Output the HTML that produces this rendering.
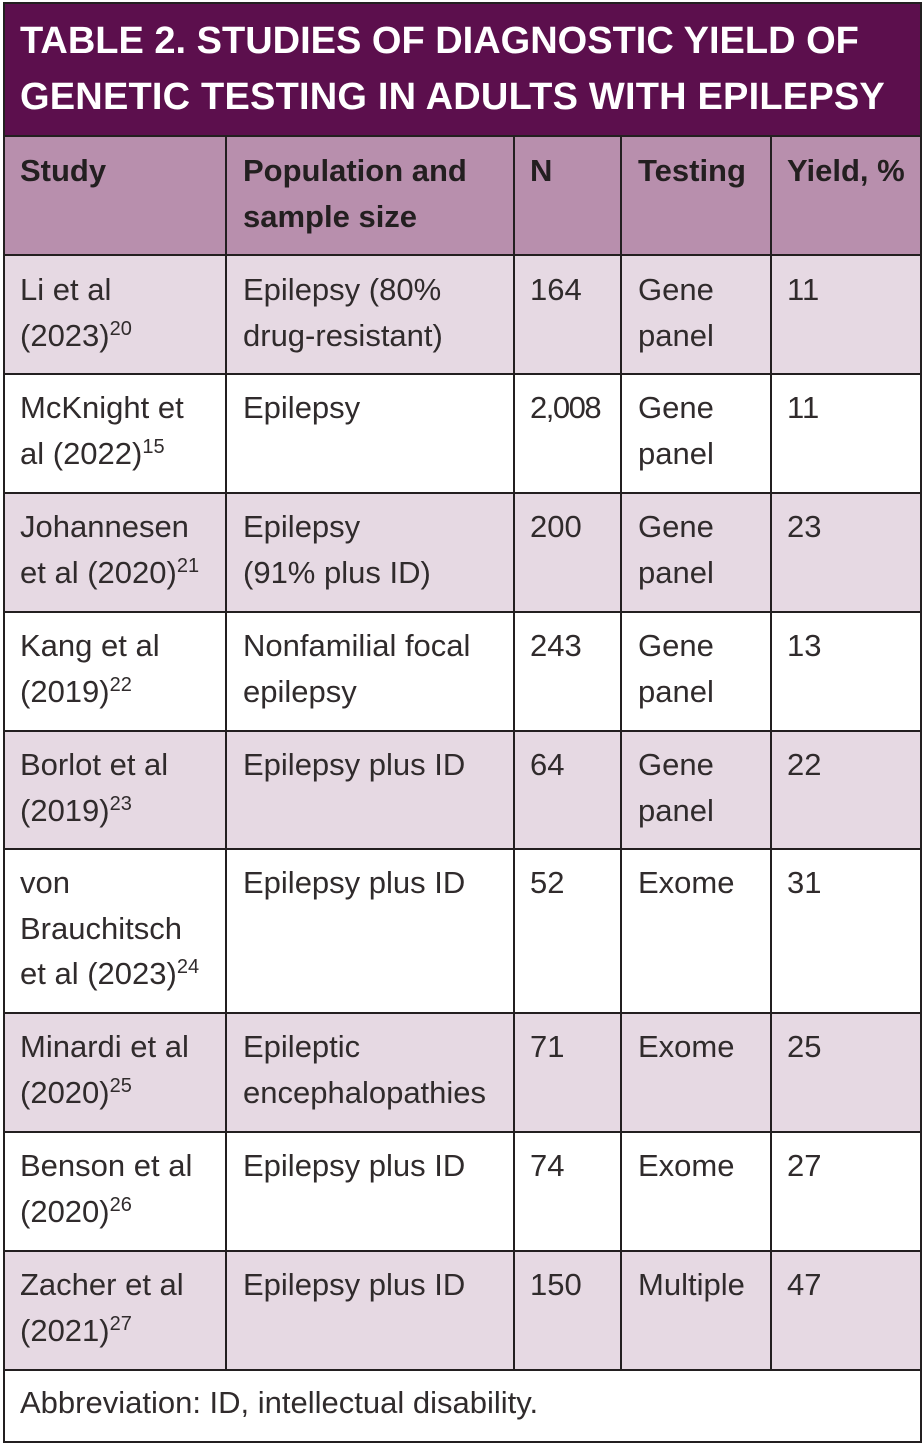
<!DOCTYPE html>
<html><head><meta charset="utf-8"><style>
*{margin:0;padding:0;box-sizing:border-box}
html,body{width:924px;height:1448px;background:#fff;overflow:hidden}
body{position:relative;font-family:"Liberation Sans",sans-serif;color:#302b2c}
.bg{position:absolute}
.h{position:absolute;background:#231f20;height:2px}
.v{position:absolute;background:#231f20;width:2px}
.t{position:absolute;font-size:31px;line-height:45.5px;white-space:nowrap}
.b{font-weight:bold;color:#231f20}
sup{font-size:20px;vertical-align:11px;line-height:0}
.title{position:absolute;left:20px;top:13px;font-size:38px;line-height:56px;font-weight:bold;color:#fff;white-space:nowrap}
</style></head><body>
<!-- backgrounds -->
<div class="bg" style="left:3px;top:2px;width:919px;height:134px;background:#5c0f4d"></div>
<div class="bg" style="left:3px;top:136px;width:919px;height:119px;background:#b88fad"></div>
<div class="bg" style="left:3px;top:255px;width:919px;height:119px;background:#e6d9e3"></div>
<div class="bg" style="left:3px;top:493px;width:919px;height:119px;background:#e6d9e3"></div>
<div class="bg" style="left:3px;top:731px;width:919px;height:118px;background:#e6d9e3"></div>
<div class="bg" style="left:3px;top:1013px;width:919px;height:119px;background:#e6d9e3"></div>
<div class="bg" style="left:3px;top:1251px;width:919px;height:119px;background:#e6d9e3"></div>

<div class="title">TABLE 2. STUDIES OF DIAGNOSTIC YIELD OF<br><span style="letter-spacing:0.2px">GENETIC TESTING IN ADULTS WITH EPILEPSY</span></div>

<!-- horizontal lines -->
<div class="h" style="left:3px;width:919px;top:2px"></div>
<div class="h" style="left:3px;width:919px;top:135px"></div>
<div class="h" style="left:3px;width:919px;top:254px"></div>
<div class="h" style="left:3px;width:919px;top:373px"></div>
<div class="h" style="left:3px;width:919px;top:492px"></div>
<div class="h" style="left:3px;width:919px;top:611px"></div>
<div class="h" style="left:3px;width:919px;top:730px"></div>
<div class="h" style="left:3px;width:919px;top:848px"></div>
<div class="h" style="left:3px;width:919px;top:1012px"></div>
<div class="h" style="left:3px;width:919px;top:1131px"></div>
<div class="h" style="left:3px;width:919px;top:1250px"></div>
<div class="h" style="left:3px;width:919px;top:1369px"></div>
<div class="h" style="left:3px;width:919px;top:1441px"></div>
<!-- vertical lines -->
<div class="v" style="left:3px;top:2px;height:1441px"></div>
<div class="v" style="left:920px;top:2px;height:1441px"></div>
<div class="v" style="left:225px;top:135px;height:1235px"></div>
<div class="v" style="left:513px;top:135px;height:1235px"></div>
<div class="v" style="left:620px;top:135px;height:1235px"></div>
<div class="v" style="left:770px;top:135px;height:1235px"></div>

<!-- header -->
<div class="t b" style="left:20px;top:148px">Study</div>
<div class="t b" style="left:243px;top:148px">Population and<br>sample size</div>
<div class="t b" style="left:530px;top:148px">N</div>
<div class="t b" style="left:638px;top:148px">Testing</div>
<div class="t b" style="left:787px;top:148px">Yield, %</div>

<!-- row 1 -->
<div class="t" style="left:20px;top:267px">Li et al<br>(2023)<sup>20</sup></div>
<div class="t" style="left:243px;top:267px">Epilepsy (80%<br>drug-resistant)</div>
<div class="t" style="left:530px;top:267px">164</div>
<div class="t" style="left:638px;top:267px">Gene<br>panel</div>
<div class="t" style="left:787px;top:267px">11</div>
<!-- row 2 -->
<div class="t" style="left:20px;top:385px">McKnight et<br>al (2022)<sup>15</sup></div>
<div class="t" style="left:243px;top:385px">Epilepsy</div>
<div class="t" style="left:530px;top:385px;letter-spacing:-1.5px">2,008</div>
<div class="t" style="left:638px;top:385px">Gene<br>panel</div>
<div class="t" style="left:787px;top:385px">11</div>
<!-- row 3 -->
<div class="t" style="left:20px;top:504px">Johannesen<br>et al (2020)<sup>21</sup></div>
<div class="t" style="left:243px;top:504px">Epilepsy<br>(91% plus ID)</div>
<div class="t" style="left:530px;top:504px">200</div>
<div class="t" style="left:638px;top:504px">Gene<br>panel</div>
<div class="t" style="left:787px;top:504px">23</div>
<!-- row 4 -->
<div class="t" style="left:20px;top:623px">Kang et al<br>(2019)<sup>22</sup></div>
<div class="t" style="left:243px;top:623px">Nonfamilial focal<br>epilepsy</div>
<div class="t" style="left:530px;top:623px">243</div>
<div class="t" style="left:638px;top:623px">Gene<br>panel</div>
<div class="t" style="left:787px;top:623px">13</div>
<!-- row 5 -->
<div class="t" style="left:20px;top:742px">Borlot et al<br>(2019)<sup>23</sup></div>
<div class="t" style="left:243px;top:742px">Epilepsy plus ID</div>
<div class="t" style="left:530px;top:742px">64</div>
<div class="t" style="left:638px;top:742px">Gene<br>panel</div>
<div class="t" style="left:787px;top:742px">22</div>
<!-- row 6 -->
<div class="t" style="left:20px;top:860px">von<br>Brauchitsch<br>et al (2023)<sup>24</sup></div>
<div class="t" style="left:243px;top:860px">Epilepsy plus ID</div>
<div class="t" style="left:530px;top:860px">52</div>
<div class="t" style="left:638px;top:860px">Exome</div>
<div class="t" style="left:787px;top:860px">31</div>
<!-- row 7 -->
<div class="t" style="left:20px;top:1024px">Minardi et al<br>(2020)<sup>25</sup></div>
<div class="t" style="left:243px;top:1024px">Epileptic<br>encephalopathies</div>
<div class="t" style="left:530px;top:1024px">71</div>
<div class="t" style="left:638px;top:1024px">Exome</div>
<div class="t" style="left:787px;top:1024px">25</div>
<!-- row 8 -->
<div class="t" style="left:20px;top:1143px">Benson et al<br>(2020)<sup>26</sup></div>
<div class="t" style="left:243px;top:1143px">Epilepsy plus ID</div>
<div class="t" style="left:530px;top:1143px">74</div>
<div class="t" style="left:638px;top:1143px">Exome</div>
<div class="t" style="left:787px;top:1143px">27</div>
<!-- row 9 -->
<div class="t" style="left:20px;top:1262px">Zacher et al<br>(2021)<sup>27</sup></div>
<div class="t" style="left:243px;top:1262px">Epilepsy plus ID</div>
<div class="t" style="left:530px;top:1262px">150</div>
<div class="t" style="left:638px;top:1262px">Multiple</div>
<div class="t" style="left:787px;top:1262px">47</div>
<!-- footer -->
<div class="t" style="left:20px;top:1380px">Abbreviation: ID, intellectual disability.</div>
</body></html>
